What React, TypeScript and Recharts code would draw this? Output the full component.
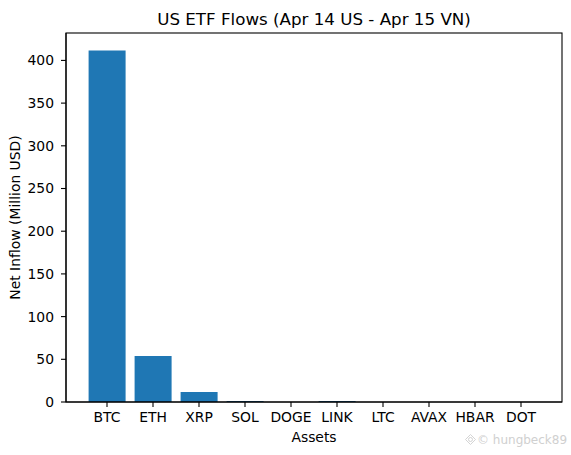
import React from 'react';
import { BarChart, Bar, XAxis, YAxis } from 'recharts';

const categories = ['BTC', 'ETH', 'XRP', 'SOL', 'DOGE', 'LINK', 'LTC', 'AVAX', 'HBAR', 'DOT'];
const inflows = [411.5, 53.8, 11.7, 1.3, 0, 1.1, 0, 0, 0, 0];
const yTicks = [0, 50, 100, 150, 200, 250, 300, 350, 400];

const data = categories.map((asset, i) => ({ asset, inflow: inflows[i] }));

const FONT = '"DejaVu Sans", sans-serif';

const PLOT = { left: 66, top: 33, right: 562, bottom: 402 };

export default function App() {
  return (
    <div style={{ position: 'absolute', left: 0, top: 0, width: 571, height: 455, background: '#fff' }}>
      <BarChart
        width={571}
        height={455}
        data={data}
        margin={{ top: PLOT.top, right: 571 - PLOT.right, bottom: 0, left: 0 }}
        barCategoryGap="10%"
      >
        <XAxis
          dataKey="asset"
          height={455 - PLOT.bottom}
          padding={{ left: 18, right: 18 }}
          interval={0}
          tickSize={5}
          tickMargin={5}
          axisLine={{ stroke: '#000', strokeWidth: 1.1 }}
          tickLine={{ stroke: '#000', strokeWidth: 1.1 }}
          tick={{ fill: '#000', fontSize: 13.9, fontFamily: FONT }}
        />
        <YAxis
          domain={[0, 432.1]}
          ticks={yTicks}
          width={PLOT.left}
          tickSize={5}
          tickMargin={7}
          allowDataOverflow
          axisLine={{ stroke: '#000', strokeWidth: 1.1 }}
          tickLine={{ stroke: '#000', strokeWidth: 1.1 }}
          tick={{ fill: '#000', fontSize: 13.9, fontFamily: FONT }}
        />
        <Bar dataKey="inflow" fill="#1f77b4" isAnimationActive={false} />
      </BarChart>
      <svg
        width={571}
        height={455}
        style={{ position: 'absolute', left: 0, top: 0, pointerEvents: 'none' }}
      >
        <rect
          x={PLOT.left}
          y={PLOT.top}
          width={PLOT.right - PLOT.left}
          height={PLOT.bottom - PLOT.top}
          fill="none"
          stroke="#000"
          strokeWidth={1.1}
        />
        <text x={314} y={25} textAnchor="middle" fontFamily={FONT} fontSize={16.7} fill="#000">
          US ETF Flows (Apr 14 US - Apr 15 VN)
        </text>
        <text x={314} y={442} textAnchor="middle" fontFamily={FONT} fontSize={13.9} fill="#000">
          Assets
        </text>
        <text
          x={20}
          y={217.5}
          textAnchor="middle"
          transform="rotate(-90 20 217.5)"
          fontFamily={FONT}
          fontSize={13.9}
          fill="#000"
        >
          Net Inflow (Million USD)
        </text>
        <g stroke="#d4d4d4" strokeWidth={1} fill="none">
          <path d="M470.5 434.5 L475.5 439.5 L470.5 444.5 L465.5 439.5 Z" />
          <circle cx={470.5} cy={439.5} r={2} />
        </g>
        <text x={477} y={443.5} fontFamily={FONT} fontSize={12} fill="#d0d0d0">
          © hungbeck89
        </text>
      </svg>
    </div>
  );
}
